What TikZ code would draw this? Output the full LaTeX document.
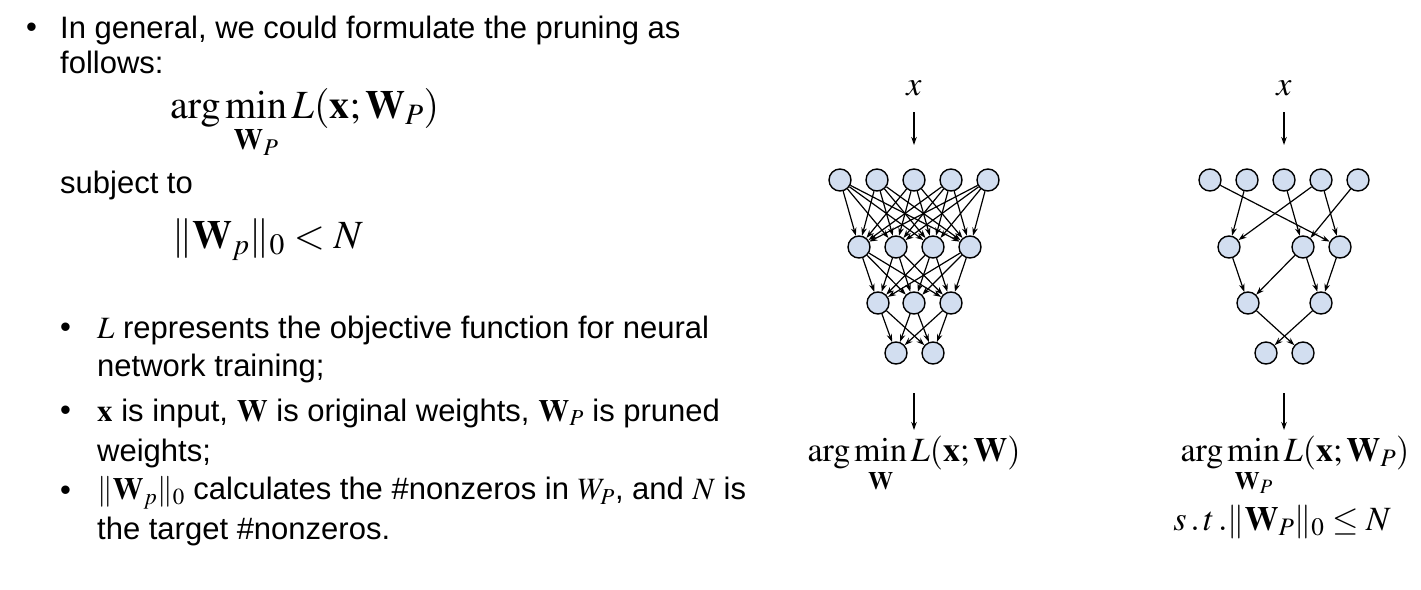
\documentclass[tikz,border=0pt]{standalone}
\usepackage{mathptmx}
\usepackage{fontspec}
\setmainfont{Liberation Sans}
\usetikzlibrary{arrows.meta}
\newcommand{\lowsub}[1]{\raisebox{-7pt}{$\scriptstyle #1$}}
\begin{document}
\begin{tikzpicture}[x=1pt,y=-1pt,
  neu/.style={circle,draw,line width=1.4pt,fill={rgb,255:red,210;green,222;blue,240},minimum size=22pt,inner sep=0pt},
  con/.style={-{Stealth[length=8pt,width=5.5pt]},line width=1.2pt},
  io/.style={-{Stealth[length=8pt,width=5.5pt]},line width=1.2pt},
  txt/.style={anchor=west,inner sep=0pt,font=\fontsize{31}{34}\selectfont},
  mth/.style={inner sep=0pt,font=\fontsize{40}{44}\selectfont},
  sm/.style={inner sep=0pt,font=\fontsize{34}{38}\selectfont}]
\useasboundingbox (0,0) rectangle (1421,589);
% left text
\node[txt] (b1) at (26,30) {\textbullet};
\node[txt] (t1) at (60,30) {In general, we could formulate the pruning as};
\node[txt] (t2) at (60,62) {follows:};
\node[mth,anchor=west] (m1) at (170,124) {$\displaystyle\arg\min\limits_{\lowsub{\mathbf{W}_P}} L(\mathbf{x};\mathbf{W}_P)$};
\node[txt] (t3) at (60,185) {subject to};
\node[mth,anchor=west] (m2) at (172,240) {$\|\mathbf{W}_p\|_0 < N$};
\node[txt] (b2) at (60,330) {\textbullet};
\node[txt] (t4) at (97,330) {$L$ represents the objective function for neural};
\node[txt] (t5) at (97,368) {network training;};
\node[txt] (b3) at (60,413) {\textbullet};
\node[txt] (t6) at (97,413) {$\mathbf{x}$ is input, $\mathbf{W}$ is original weights, $\mathbf{W}_P$ is pruned};
\node[txt] (t7) at (97,453) {weights;};
\node[txt] (b4) at (60,493) {\textbullet};
\node[txt] (t8) at (97,493) {$\|\mathbf{W}_p\|_0$ calculates the \#nonzeros in $W_P$, and $N$ is};
\node[txt] (t9) at (97,531) {the target \#nonzeros.};
% left network
\foreach \i/\x in {1/840,2/877,3/914,4/951,5/988} \node[neu] (a\i) at (\x,180) {};
\foreach \i/\x in {1/859,2/896,3/933,4/970} \node[neu] (b\i) at (\x,247) {};
\foreach \i/\x in {1/878,2/914,3/951} \node[neu] (c\i) at (\x,303) {};
\foreach \i/\x in {1/896,2/933} \node[neu] (d\i) at (\x,353) {};
\foreach \i in {1,...,5} \foreach \j in {1,...,4} \draw[con] (a\i) -- (b\j);
\foreach \i in {1,...,4} \foreach \j in {1,...,3} \draw[con] (b\i) -- (c\j);
\foreach \i in {1,...,3} \foreach \j in {1,2} \draw[con] (c\i) -- (d\j);
\node[sm] (xl) at (914,88) {$x$};
\coordinate (xla) at (914,112); \coordinate (xlb) at (914,145);
\draw[io] (xla) -- (xlb);
\coordinate (yla) at (914,393); \coordinate (ylb) at (914,430);
\draw[io] (yla) -- (ylb);
\node[sm,anchor=north] (fl) at (914,436) {$\displaystyle\arg\min\limits_{\lowsub{\mathbf{W}}} L(\mathbf{x};\mathbf{W})$};
% right network
\foreach \i/\x in {1/1210,2/1247,3/1284,4/1321,5/1358} \node[neu] (p\i) at (\x,180) {};
\foreach \i/\x in {1/1229,2/1303,3/1340} \node[neu] (q\i) at (\x,247) {};
\foreach \i/\x in {1/1248,2/1321} \node[neu] (r\i) at (\x,303) {};
\foreach \i/\x in {1/1266,2/1303} \node[neu] (s\i) at (\x,353) {};
\draw[con] (p1) -- (q3); \draw[con] (p2) -- (q1); \draw[con] (p3) -- (q2);
\draw[con] (p4) -- (q1); \draw[con] (p4) -- (q3); \draw[con] (p5) -- (q2);
\draw[con] (q1) -- (r1); \draw[con] (q2) -- (r1); \draw[con] (q2) -- (r2); \draw[con] (q3) -- (r2);
\draw[con] (r1) -- (s2); \draw[con] (r2) -- (s1);
\node[sm] (xr) at (1284,88) {$x$};
\coordinate (xra) at (1284,112); \coordinate (xrb) at (1284,145);
\draw[io] (xra) -- (xrb);
\coordinate (yra) at (1284,393); \coordinate (yrb) at (1284,430);
\draw[io] (yra) -- (yrb);
\node[sm,anchor=north] (fr) at (1295,436) {$\displaystyle\arg\min\limits_{\lowsub{\mathbf{W}_P}} L(\mathbf{x};\mathbf{W}_P)$};
\node[sm] (st) at (1282,522) {$s\,.\,t\,.\|\mathbf{W}_P\|_0 \le N$};
\end{tikzpicture}
\end{document}
